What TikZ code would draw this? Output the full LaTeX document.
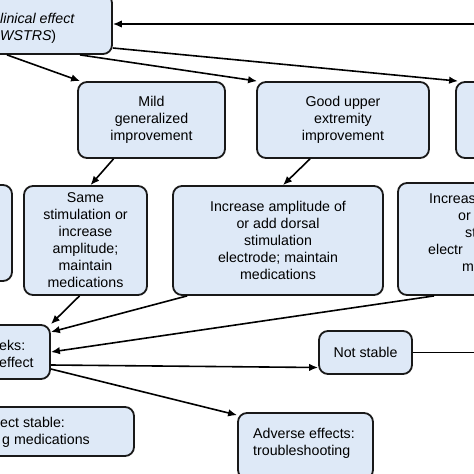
\documentclass[tikz,border=0pt]{standalone}
\usepackage{fontspec}
\setmainfont{Liberation Sans}
\usetikzlibrary{arrows.meta}
\definecolor{boxblue}{HTML}{DEE9F7}
\tikzset{
  box/.style={draw=black!90, fill=boxblue, line width=1.8pt, rounded corners=9pt, align=center, inner sep=0pt},
  arr/.style={-{Latex[length=9pt,width=7.5pt]}, line width=1.6pt},
  frag/.style={anchor=west, align=left, inner sep=0pt}
}
\begin{document}
\begin{tikzpicture}[x=1pt,y=-1pt,font=\fontsize{14.2}{17}\selectfont]
  \useasboundingbox (0,0) rectangle (474,474);
  \clip (0,0) rectangle (474,474);
  % first row
  \node[box, minimum width=192pt, minimum height=60pt] (clin) at (16,24) {};
  \node[frag] (clintxt) at (0,28) {\textit{linical effect}\\\textit{WSTRS})};
  \node[box, minimum width=147pt, minimum height=76pt] (mild) at (151.5,120) {Mild\\generalized\\improvement};
  \node[box, minimum width=172pt, minimum height=76pt] (upper) at (343,120) {Good upper\\extremity\\improvement};
  \node[box, minimum width=90pt, minimum height=76pt] (right1) at (501,120) {};
  % second row
  \node[box, minimum width=80pt, minimum height=96pt] (left2) at (-28,233) {};
  \node[box, minimum width=123pt, minimum height=109pt] (same) at (85.5,240.5) {Same\\stimulation or\\increase\\amplitude;\\maintain\\medications};
  \node[box, minimum width=210pt, minimum height=109pt] (dorsal) at (278,240.5) {Increase amplitude of\\or add dorsal\\stimulation\\electrode; maintain\\medications};
  \node[box, minimum width=162pt, minimum height=112pt] (right2) at (479,239) {};
  \node[frag] (right2txt) at (428,233) {\hspace*{1pt}Increas\\\hspace*{30pt}or\\\hspace*{37pt}st\\electr\\\hspace*{34pt}m};
  % third row
  \node[box, minimum width=130pt, minimum height=54pt] (weeks) at (-15,352) {};
  \node[frag] (weekstxt) at (-1,353.5) {eks:\\effect};
  \node[box, minimum width=93pt, minimum height=43pt] (unstable) at (365.5,352.5) {Not stable};
  \node[box, minimum width=214pt, minimum height=49pt] (stable) at (27,431.5) {};
  \node[frag] (stabletxt) at (0,432) {ect stable:\\\hspace*{2pt}g medications};
  \node[box, minimum width=135pt, minimum height=66pt] (adverse) at (305.5,446) {};
  \node[frag] (adversetxt) at (253,443.5) {Adverse effects:\\troubleshooting};
  % connectors
  \coordinate (loopin) at (480,24);
  \coordinate (loopout) at (480,352.5);
  \draw[arr] (loopin) -- (clin.east);
  \draw[arr] ([yshift=-24pt]clin.east) -- ([xshift=3pt]right1.north west);
  \draw[arr] ([xshift=64pt]clin.south) -- ([xshift=1pt]upper.north west);
  \draw[arr] ([xshift=-9pt]clin.south) -- ([xshift=3pt]mild.north west);
  \draw[arr] ([xshift=-38pt]mild.south) -- ([xshift=5pt]same.north);
  \draw[arr] ([xshift=-33pt]upper.south) -- ([xshift=5pt]dorsal.north);
  \draw[arr] ([xshift=-6pt]same.south) -- (weeks.north east);
  \draw[arr] ([xshift=15pt]dorsal.south west) -- ([yshift=20pt]weeks.east);
  \draw[arr] ([xshift=37pt]right2.south west) -- (weeks.east);
  \draw[arr] ([yshift=-13pt]weeks.east) -- ([yshift=-15pt]unstable.west);
  \draw[arr] ([yshift=-17pt]weeks.east) -- ([yshift=-3pt]adverse.north west);
  \draw[line width=1.6pt] (unstable.east) -- (loopout);
\end{tikzpicture}
\end{document}
